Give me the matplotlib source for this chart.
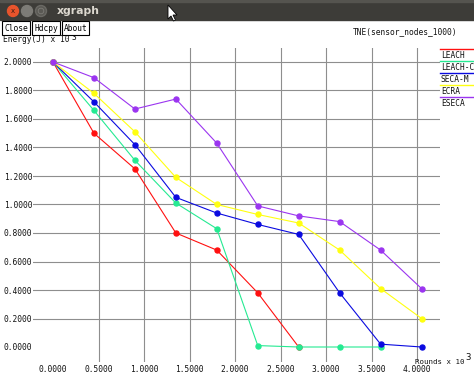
"""
plot.py

Recreate the xgraph "TNE(sensor_nodes_1000)" energy-vs-rounds chart,
including the little xgraph window chrome around it.

Output:
    out.png (474x375)
"""

import matplotlib

matplotlib.use("Agg")
import matplotlib.pyplot as plt
from matplotlib.patches import Circle, Polygon, Rectangle


# rounds (x 10^3)
ROUNDS = [0.0, 0.45, 0.90, 1.35, 1.80, 2.25, 2.70, 3.15, 3.60, 4.05]

# total network energy (J x 10^3)
LEACH = [2.00, 1.50, 1.25, 0.80, 0.68, 0.38, 0.00]
LEACH_C = [2.00, 1.66, 1.31, 1.01, 0.83, 0.01, 0.00, 0.00, 0.00]
SECA_M = [2.00, 1.72, 1.42, 1.05, 0.94, 0.86, 0.79, 0.38, 0.02, 0.00]
ECRA = [2.00, 1.78, 1.51, 1.19, 1.00, 0.93, 0.87, 0.68, 0.41, 0.20]
ESECA = [2.00, 1.89, 1.67, 1.74, 1.43, 0.99, 0.92, 0.88, 0.68, 0.41]

SERIES_NAMES = ["LEACH", "LEACH-C", "SECA-M", "ECRA", "ESECA"]
SERIES_VALUES = [LEACH, LEACH_C, SECA_M, ECRA, ESECA]
SERIES_COLORS = ["#ff1010", "#25ea92", "#0a0ae0", "#ffff10", "#9b35f0"]

X_TICKS = [0.0, 0.5, 1.0, 1.5, 2.0, 2.5, 3.0, 3.5, 4.0]
Y_TICKS = [0.0, 0.2, 0.4, 0.6, 0.8, 1.0, 1.2, 1.4, 1.6, 1.8, 2.0]

TITLE = "TNE(sensor_nodes_1000)"
X_LABEL = "Rounds x 10"
Y_LABEL = "Energy(J) x 10"
BUTTONS = ["Close", "Hdcpy", "About"]

W, H = 474, 375
MONO = "DejaVu Sans Mono"
FS = 5.7
GRID = "#8e8e8e"
INK = "#111111"


def px_rect(left, top, right, bottom):
    """Pixel box -> figure fraction [l, b, w, h]."""
    return [left / W, 1 - bottom / H, (right - left) / W, (bottom - top) / H]


def draw_plot(fig):
    ax = fig.add_axes(px_rect(33, 48, 440, 362))
    # limits chosen so that 0 sits at pixel (53, 347)
    ax.set_xlim(-20 / 91.0, 387 / 91.0)
    ax.set_ylim(-15 / 142.5, 299 / 142.5)
    for side in ax.spines.values():
        side.set_visible(False)

    # xgraph leaves out the zero grid lines
    for x in X_TICKS:
        if x != 0:
            ax.axvline(x, color=GRID, lw=0.8, zorder=1)
    for y in Y_TICKS:
        if y != 0:
            ax.axhline(y, color=GRID, lw=0.8, zorder=1)

    ax.set_xticks(X_TICKS)
    ax.set_xticklabels([f"{x:.4f}" for x in X_TICKS])
    ax.set_yticks(Y_TICKS)
    ax.set_yticklabels([f"{y:.4f}" for y in Y_TICKS])
    ax.tick_params(length=0, labelsize=FS, colors=INK)
    ax.tick_params(axis="x", pad=2.2)
    ax.tick_params(axis="y", pad=0.5)
    for lab in ax.get_xticklabels() + ax.get_yticklabels():
        lab.set_fontfamily(MONO)

    for values, color in zip(SERIES_VALUES, SERIES_COLORS):
        ax.plot(
            ROUNDS[: len(values)],
            values,
            color=color,
            lw=0.8,
            marker="o",
            ms=3.6,
            mec=color,
            mfc=color,
            zorder=3,
            clip_on=False,
        )
    return ax


def draw_chrome(fig):
    cx = fig.add_axes([0, 0, 1, 1], zorder=5)
    cx.set_xlim(0, W)
    cx.set_ylim(H, 0)
    cx.axis("off")
    cx.patch.set_alpha(0)

    # window title bar
    cx.add_patch(Rectangle((0, 0), W, 20, color="#3d3c38", zorder=1))
    cx.add_patch(Rectangle((0, 0), W, 2, color="#55544f", zorder=1))
    cx.add_patch(Circle((13, 11), 5.5, color="#e8542c", zorder=2))
    cx.text(13, 11.3, "x", color="#3a1a10", fontsize=5, ha="center", va="center", zorder=3)
    cx.add_patch(Circle((27, 11), 5.5, color="#7d7c77", zorder=2))
    cx.add_patch(Circle((41, 11), 5.5, color="#5a5954", ec="#6a6964", zorder=2))
    cx.add_patch(Circle((41, 11), 2.8, fc="none", ec="#7d7c77", lw=0.6, zorder=3))
    cx.text(57, 10.5, "xgraph", color="#dcd8cf", fontsize=7.8, fontweight="semibold",
            ha="left", va="center", zorder=3)
    cursor = [(168, 5), (168, 19), (171, 16), (173.5, 21), (175.5, 20),
              (173, 15), (177, 15)]
    cx.add_patch(Polygon(cursor, closed=True, fc="white", ec="black", lw=0.6, zorder=4))

    # axis labels and title
    cx.text(3, 40, Y_LABEL, fontsize=FS, family=MONO, ha="left", va="center",
            color=INK, zorder=2)
    cx.text(71, 37, "3", fontsize=FS, family=MONO, ha="left", va="center",
            color=INK, zorder=2)
    cx.text(353, 32, TITLE, fontsize=FS, family=MONO, ha="left", va="center",
            color=INK, zorder=2)
    cx.text(415, 362, X_LABEL, fontsize=5.3, family=MONO, ha="left", va="center",
            color=INK, zorder=2)
    cx.text(465, 357, "3", fontsize=6.6, family=MONO, ha="left", va="center",
            color=INK, zorder=2)

    # xgraph buttons
    left = 2
    for name, width in zip(BUTTONS, [28, 28, 27]):
        cx.add_patch(Rectangle((left, 21), width, 14, fc="white", ec="black",
                               lw=0.8, zorder=3))
        cx.text(left + width / 2, 28.5, name, fontsize=FS, family=MONO,
                ha="center", va="center", color="black", zorder=4)
        left += width + 2

    # legend: coloured bar above each name
    for i, (name, color) in enumerate(zip(SERIES_NAMES, SERIES_COLORS)):
        y = 49 + 12 * i
        cx.plot([440, 474], [y, y], color=color, lw=1.0, zorder=2)
        cx.text(441, y + 6, name, fontsize=FS, family=MONO, ha="left",
                va="center", color=INK, zorder=2)


def main():
    fig = plt.figure(figsize=(W / 100, H / 100), dpi=100)
    fig.patch.set_facecolor("white")
    draw_plot(fig)
    draw_chrome(fig)
    fig.savefig("out.png", dpi=100)
    plt.close(fig)


if __name__ == "__main__":
    main()
